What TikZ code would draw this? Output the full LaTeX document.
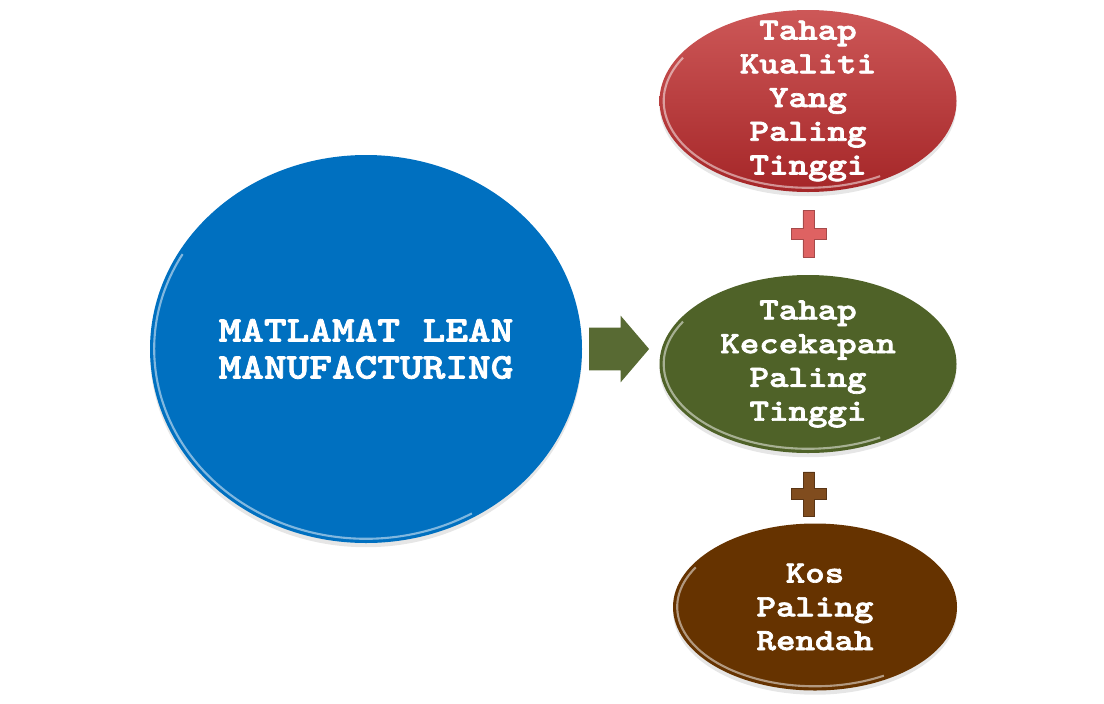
\documentclass[tikz,border=0pt]{standalone}
\usepackage{fontspec}
\newfontfamily\boxfont{lmmonolt10-bold.otf}[FakeStretch=1.2, FakeBold=2.2]
\usetikzlibrary{shapes.geometric,shapes.arrows,shadows,calc,positioning}

\definecolor{goalblue}{RGB}{0,112,192}
\definecolor{qualred}{RGB}{196,58,58}
\definecolor{qualreddark}{RGB}{165,38,40}
\definecolor{skillgreen}{RGB}{79,98,40}
\definecolor{costbrown}{RGB}{102,51,0}
\definecolor{plusred}{RGB}{222,98,98}
\definecolor{plusbrown}{RGB}{128,76,30}

\tikzset{
    bubble/.style={ellipse, inner sep=0pt,
        drop shadow={opacity=.2, shadow xshift=0pt, shadow yshift=-3pt},
        path picture={
            \draw[rim] let \p1=($(path picture bounding box.north east)-(path picture bounding box.center)$) in
                (path picture bounding box.center) ++({(\x1-3pt)*cos(150)},{(\y1-3pt)*sin(150)})
                arc[start angle=150, end angle=300, x radius=\x1-3pt, y radius=\y1-3pt];
        }},
    rim/.style={white, opacity=.5, line width=1.5pt},
    bubbletext/.style={text=white, align=center,
        font=\boxfont\fontsize{22}{24}\selectfont},
    goaltext/.style={text=white, align=center,
        font=\boxfont\fontsize{25.6}{26.3}\selectfont},
    pics/plussign/.style={code={
        \path[pic actions] (-0.14,0.58) -- (0.14,0.58) -- (0.14,0.14) -- (0.435,0.14)
            -- (0.435,-0.14) -- (0.14,-0.14) -- (0.14,-0.58) -- (-0.14,-0.58)
            -- (-0.14,-0.14) -- (-0.435,-0.14) -- (-0.435,0.14) -- (-0.14,0.14) -- cycle;
    }}
}

\begin{document}
\begin{tikzpicture}
    \useasboundingbox (0,0) rectangle (27.6,-17.575);

    % left goal
    \node[bubble, fill=goalblue, minimum width=10.8cm, minimum height=9.7cm] (goal) at (9.15,-8.725) {};
    \node[goaltext] (goaltxt) at (goal.center) {MATLAMAT LEAN\\MANUFACTURING};

    % three targets
    \node[bubble, top color=qualred!85!white, bottom color=qualreddark, minimum width=7.425cm, minimum height=4.55cm] (quality) at (20.2,-2.525) {};
    \node[bubble, fill=skillgreen, minimum width=7.425cm, minimum height=4.45cm] (skill) at (20.2,-9.1) {};
    \node[bubble, fill=costbrown, minimum width=7.1cm, minimum height=4.175cm] (cost) at (20.375,-15.175) {};

    \node[bubbletext] (qualitytxt) at (quality.center) {Tahap\\Kualiti\\Yang\\Paling\\Tinggi};
    \node[bubbletext] (skilltxt) at (skill.center) {Tahap\\Kecekapan\\Paling\\Tinggi};
    \node[bubbletext] (costtxt) at (cost.center) {Kos\\Paling\\Rendah};

    % arrow and plus signs
    \node[single arrow, fill=skillgreen!95!white, inner xsep=0pt, inner ysep=0.525cm, minimum height=1.5cm,
        single arrow head extend=0.3cm, single arrow tip angle=99] (arrow) at (15.25,-8.725) {};

    \pic[fill=plusred, draw=plusred!75!black, line width=.4pt] (plusA) at (20.21,-5.84) {plussign};
    \pic[fill=plusbrown, draw=plusbrown!70!black, line width=.4pt, yscale=.95] (plusB) at (20.225,-12.35) {plussign};

\end{tikzpicture}
\end{document}
